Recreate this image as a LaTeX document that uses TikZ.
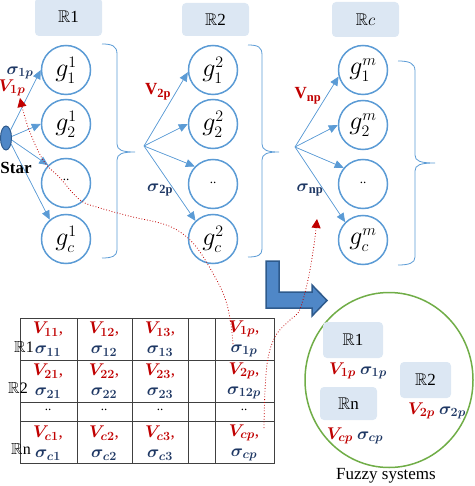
\RequirePackage{fix-cm}
\documentclass[tikz,border=0pt]{standalone}
\usepackage{fontspec}
\setmainfont{Liberation Serif}
\usepackage{amsmath,amssymb}
\usetikzlibrary{arrows.meta,shapes.geometric}
\DeclareMathSizes{26}{26}{16}{12}
\DeclareMathSizes{17}{17}{12.5}{10}
\definecolor{cblue}{HTML}{5B9BD5}
\definecolor{lblue}{HTML}{DCE7F3}
\definecolor{cred}{HTML}{C00000}
\definecolor{cnavy}{HTML}{1F3864}
\definecolor{cgreen}{HTML}{70AD47}
\definecolor{lfill}{HTML}{4F87C7}
\definecolor{ldraw}{HTML}{2E5A8C}
\definecolor{tgray}{HTML}{404040}
\newcommand{\myRR}{\ensuremath{\mathbb{R}}}
\newcommand{\Vc}[1]{\textcolor{cred}{$\boldsymbol{V_{#1}}$,}}
\newcommand{\Vi}[1]{\textcolor{cred}{$\boldsymbol{V_{#1}}$}}
\newcommand{\Si}[1]{\textcolor{cnavy}{$\boldsymbol{\sigma_{#1}}$}}
\newcommand{\dd}{\raisebox{3pt}{..}}
\begin{document}
\begin{tikzpicture}[x=1pt,y=-1pt,
  circ/.style={circle, draw=cblue, line width=1.5pt, minimum size=49pt, inner sep=0pt, font=\fontsize{26}{28}\selectfont},
  dcirc/.style={circ, font=\fontsize{13}{14}\selectfont},
  arr/.style={draw=cblue, line width=0.7pt, -{Triangle[length=9pt,width=8pt]}, fill=cblue},
  hbox/.style={fill=lblue, rounded corners=4pt, draw=none, inner sep=0pt, font=\fontsize{17}{20}\selectfont},
  tbl/.style={align=center, font=\fontsize{17}{20}\selectfont, inner sep=0pt},
  brk/.style={draw=cblue, line width=0.8pt},
  redpath/.style={draw=cred, dotted, line width=0.8pt, -{Triangle[length=9pt,width=9pt,fill=cred]}},
  lbl/.style={font=\fontsize{17}{20}\selectfont, inner sep=0pt},
  flbl/.style={font=\fontsize{17}{20}\selectfont, inner sep=0pt},
  rowlbl/.style={font=\fontsize{16}{18}\selectfont, inner sep=0pt}]
\useasboundingbox (0,0) rectangle (474,486);

% title boxes
\node[hbox, minimum width=67pt, minimum height=38pt] (h1) at (68.5,17) {\myRR1};
\node[hbox, minimum width=67pt, minimum height=33pt] (h2) at (215.5,19.5) {\myRR2};
\node[hbox, minimum width=67pt, minimum height=35pt] (h3) at (365.5,19.5) {$\mathbb{R}c$};

% circles
\node[circ] (c11) at (66,70) {$g_1^1$};
\node[circ] (c12) at (66,124) {$g_2^1$};
\node[dcirc] (c13) at (66,183) {\raisebox{7pt}{..}};
\node[circ] (c14) at (66,239) {$g_c^1$};
\node[circ] (c21) at (213,70) {$g_1^2$};
\node[circ] (c22) at (213,124) {$g_2^2$};
\node[dcirc] (c23) at (213,184) {\dd};
\node[circ] (c24) at (213,239) {$g_c^2$};
\node[circ] (c31) at (363,70) {$g_1^m$};
\node[circ] (c32) at (363,125) {$g_2^m$};
\node[dcirc] (c33) at (363,184) {\dd};
\node[circ] (c34) at (363,240) {$g_c^m$};

% star
\node[ellipse, draw=ldraw, fill=lfill, line width=1pt, minimum width=11pt, minimum height=24pt, inner sep=0pt] (star) at (6,138) {};
\node[font=\bfseries\fontsize{17}{20}\selectfont, inner sep=0pt] (startxt) at (16,168) {Star};

% fan arrows
\draw[arr] (star.60) -- (c11.west);
\draw[arr] (star.15) -- (c12.west);
\draw[arr] (star.-20) -- (c13.135);
\draw[arr] (star.-50) -- (c14.130);
\coordinate (f2) at (144,146);
\draw[arr] (f2) -- (c21.185);
\draw[arr] (f2) -- (c22.west);
\draw[arr] (f2) -- (c23.136);
\draw[arr] (f2) -- (c24.134);
\coordinate (f3) at (295,147);
\draw[arr] (f3) -- (c31.195);
\draw[arr] (f3) -- (c32.west);
\draw[arr] (f3) -- (c33.140);
\draw[arr] (f3) -- (c34.135);

% labels
\node[lbl] (s1) at (20,73) {\Si{1p}};
\node[lbl] (v1) at (12,88) {\Vi{1p}};
\node[lbl, text=cred] (v2) at (158,92) {$\mathbf{V}_{\mathbf{2p}}$};
\node[lbl, text=cnavy] (s2) at (160,190) {$\boldsymbol{\sigma}_{\mathbf{2p}}$};
\node[lbl, text=cred] (vn) at (308,96) {$\mathbf{V}_{\mathbf{np}}$};
\node[lbl, text=cnavy] (sn) at (310,190) {$\boldsymbol{\sigma}_{\mathbf{np}}$};

% brackets
\draw[brk] (102,44) .. controls (112,44) and (117,46) .. (117,54) -- (117,144)
  .. controls (117,150) and (122,152) .. (135,152) .. controls (122,152) and (117,154) .. (117,160)
  -- (117,250) .. controls (117,256) and (112,258) .. (102,258);
\draw[brk] (248,45) .. controls (258,45) and (262,47) .. (262,55) -- (262,144)
  .. controls (262,150) and (267,152) .. (279,152) .. controls (267,152) and (262,154) .. (262,160)
  -- (262,249) .. controls (262,255) and (258,257) .. (248,257);
\draw[brk] (398,61) .. controls (409,61) and (415,63) .. (415,71) -- (415,155)
  .. controls (415,161) and (420,163) .. (435,163) .. controls (420,163) and (415,165) .. (415,171)
  -- (415,257) .. controls (415,263) and (409,265) .. (398,265);

% L arrow
\draw[fill=lfill, draw=ldraw, line width=1.5pt, line join=miter]
  (266,261) -- (279,261) -- (279,292) -- (312,292) -- (312,285) -- (327,300.5) -- (312,316) -- (312,308) -- (266,308) -- cycle;

% table
\draw[tgray, line width=1pt] (20,318) rectangle (274,463);
\draw[tgray, line width=1pt] (20,360) -- (274,360) (20,402) -- (274,402) (20,421) -- (274,421)
  (77,318) -- (77,463) (132,318) -- (132,463) (188,318) -- (188,463) (215,318) -- (215,463);
\node[tbl] (t11) at (48,339) {\Vc{11}\\ \Si{11}};
\node[tbl] (t12) at (104,339) {\Vc{12}\\ \Si{12}};
\node[tbl] (t13) at (160,339) {\Vc{13}\\ \Si{13}};
\node[tbl] (t15) at (244,339) {\Vc{1p}\\ \Si{1p}};
\node[tbl] (t21) at (48,381) {\Vc{21}\\ \Si{21}};
\node[tbl] (t22) at (104,381) {\Vc{22}\\ \Si{22}};
\node[tbl] (t23) at (160,381) {\Vc{23}\\ \Si{23}};
\node[tbl] (t25) at (244,381) {\Vc{2p}\\ \Si{12p}};
\node[tbl, font=\fontsize{13}{14}\selectfont] (t31) at (48,410) {..};
\node[tbl, font=\fontsize{13}{14}\selectfont] (t32) at (104,410) {..};
\node[tbl, font=\fontsize{13}{14}\selectfont] (t33) at (160,410) {..};
\node[tbl, font=\fontsize{13}{14}\selectfont] (t35) at (244,410) {..};
\node[tbl] (t41) at (48,443) {\Vc{c1}\\ \Si{c1}};
\node[tbl] (t42) at (104,443) {\Vc{c2}\\ \Si{c2}};
\node[tbl] (t43) at (160,443) {\Vc{c3}\\ \Si{c3}};
\node[tbl] (t45) at (244,443) {\Vc{cp}\\ \Si{cp}};
\node[rowlbl] (rl1) at (24,347) {\myRR1};
\node[rowlbl] (rl2) at (18,388) {\myRR2};
\node[rowlbl] (rl3) at (21,449) {\myRR n};

% fuzzy systems
\node[ellipse, draw=cgreen, line width=1.5pt, minimum width=168pt, minimum height=175pt, inner sep=0pt] (fz) at (389,380) {};
\node[hbox, minimum width=60pt, minimum height=36pt] (fr1) at (353,340) {\myRR1};
\node[hbox, minimum width=51pt, minimum height=36pt] (fr2) at (425.5,380) {\myRR2};
\node[hbox, minimum width=57pt, minimum height=33pt] (fr3) at (348.5,403.5) {\myRR n};
\node[flbl] (fv1) at (358,371) {\Vi{1p} \Si{1p}};
\node[flbl] (fv2) at (437,411) {\Vi{2p} \Si{2p}};
\node[flbl] (fv3) at (355,436) {\Vi{cp} \Si{cp}};
\node[font=\fontsize{17}{20}\selectfont, inner sep=0pt] (fztxt) at (386,476) {Fuzzy systems};

% red dotted connectors
\coordinate (p1s) at (233,344);
\coordinate (p1e) at (20,98);
\draw[redpath] plot[smooth, tension=0.6] coordinates {(p1s) (230,318) (223,293) (207,263) (193,243) (177,230) (160,223) (133,217) (100,208) (80,200) (60,178) (43,160) (28,127) (p1e)};
\coordinate (p2s) at (264,428);
\coordinate (p2e) at (317,219);
\draw[redpath] plot[smooth, tension=0.6] coordinates {(p2s) (265,390) (268,358) (276,335) (290,320) (298,313) (303,300) (309,275) (314,245) (p2e)};
\end{tikzpicture}
\end{document}
